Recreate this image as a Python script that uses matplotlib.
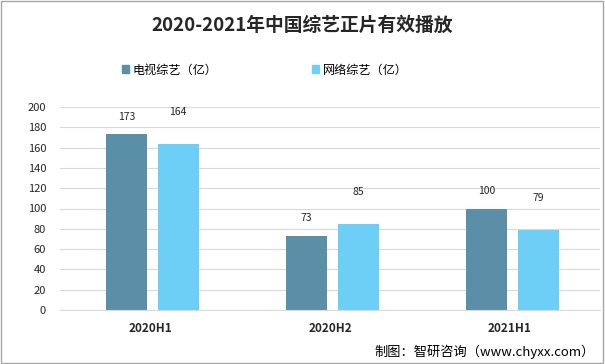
import matplotlib
matplotlib.use("Agg")
import matplotlib.pyplot as plt
from matplotlib.patches import Rectangle, Patch
import numpy as np

plt.rcParams['font.family'] = ['Noto Sans CJK SC', 'DejaVu Sans']

categories = ["2020H1", "2020H2", "2021H1"]
tv_values = [173, 73, 100]
web_values = [164, 85, 79]
series_names = ["电视综艺（亿）", "网络综艺（亿）"]
yticks = [0, 20, 40, 60, 80, 100, 120, 140, 160, 180, 200]
title = "2020-2021年中国综艺正片有效播放"
source = "制图：智研咨询（www.chyxx.com）"

c_tv = "#5B8FA8"
c_web = "#6DCFF6"

fig = plt.figure(figsize=(6.05, 3.64), dpi=100)
ax = fig.add_axes([60/605, 54/364, 540/605, 203/364])

x = np.arange(len(categories))
w = 0.228
b1 = ax.bar(x - 0.131, tv_values, w, color=c_tv, zorder=3)
b2 = ax.bar(x + 0.156, web_values, w, color=c_web, zorder=3)

for rect, v in zip(b1, tv_values):
    ax.annotate(str(v), (rect.get_x() + rect.get_width()/2, v), xytext=(0, 9),
                textcoords="offset points", ha="center", va="bottom", fontsize=7.5, color="#262626")
for rect, v in zip(b2, web_values):
    ax.annotate(str(v), (rect.get_x() + rect.get_width()/2, v), xytext=(0, 19),
                textcoords="offset points", ha="center", va="bottom", fontsize=7.5, color="#262626")

ax.set_xlim(-0.5, len(categories) - 0.5)
ax.set_ylim(0, 200)
ax.set_yticks(yticks)
ax.set_yticklabels([str(t) for t in yticks], fontsize=8, color="#262626")
ax.set_xticks(x)
ax.set_xticklabels(categories, fontsize=8.5, fontweight="bold", color="#262626")
ax.tick_params(axis="both", length=0)
ax.tick_params(axis="y", pad=10)
ax.tick_params(axis="x", pad=9)
ax.grid(axis="y", color="#D9D9D9", linewidth=0.8, zorder=0)
for s in ["top", "right", "left"]:
    ax.spines[s].set_visible(False)
ax.spines["bottom"].set_color("#D9D9D9")
ax.spines["bottom"].set_zorder(4)

fig.text(0.5, 1 - 25/364, title, ha="center", va="center", fontsize=13.5, fontweight="bold", color="#262626")

handles = [Patch(color=c_tv, label=series_names[0]), Patch(color=c_web, label=series_names[1])]
fig.legend(handles=handles, loc="center", bbox_to_anchor=(265/605, 1 - 70/364), ncol=2,
           frameon=False, fontsize=8.7, handlelength=0.6, handleheight=0.6, handletextpad=0.3,
           columnspacing=7.8)

fig.text(1 - 10/605, 1 - 352/364, source, ha="right", va="center", fontsize=9.5, color="#000000")

fig.patches.append(Rectangle((0.002, 0.003), 0.995, 0.994, transform=fig.transFigure,
                             fill=False, edgecolor="#A6A6A6", linewidth=1))

fig.savefig("out.png", dpi=100)
